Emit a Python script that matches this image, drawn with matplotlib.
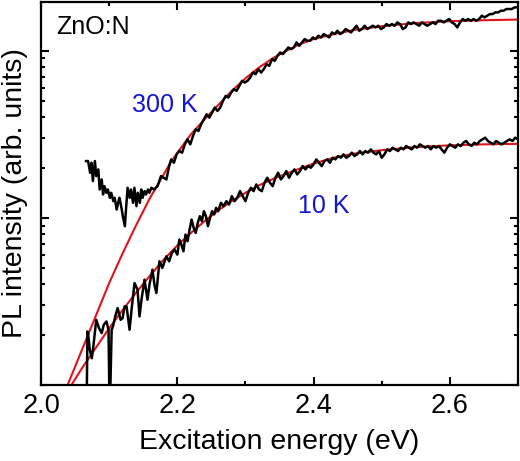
import numpy as np
import matplotlib
matplotlib.use('Agg')
import matplotlib.pyplot as plt
from matplotlib.ticker import MultipleLocator, LogLocator, NullFormatter

plt.rcParams['font.family'] = ['Liberation Sans', 'DejaVu Sans']

# (excitation energy in eV, log10 of PL intensity in arb. units)
pl_300k = [
    (2.066, 1.34), (2.069, 1.34), (2.072, 1.27), (2.074, 1.33), (2.076, 1.22),
    (2.079, 1.34), (2.081, 1.25), (2.084, 1.29), (2.086, 1.17), (2.089, 1.23),
    (2.091, 1.14), (2.093, 1.19), (2.096, 1.15), (2.098, 1.17), (2.101, 1.12),
    (2.103, 1.15), (2.106, 1.10), (2.108, 1.12), (2.111, 1.05), (2.113, 1.09),
    (2.115, 1.12), (2.118, 1.06), (2.120, 1.01), (2.123, 0.95), (2.125, 1.07),
    (2.127, 1.18), (2.130, 1.12), (2.132, 1.17), (2.135, 1.09), (2.137, 1.18),
    (2.140, 1.07), (2.142, 1.15), (2.145, 1.09), (2.147, 1.17), (2.149, 1.12),
    (2.152, 1.16), (2.154, 1.14), (2.157, 1.17), (2.159, 1.15), (2.162, 1.18),
    (2.166, 1.17), (2.171, 1.19), (2.176, 1.25), (2.180, 1.24), (2.184, 1.23),
    (2.188, 1.31), (2.191, 1.35), (2.195, 1.33), (2.199, 1.38), (2.203, 1.40),
    (2.207, 1.39), (2.211, 1.44), (2.215, 1.47), (2.219, 1.44), (2.223, 1.49),
    (2.227, 1.53), (2.231, 1.52), (2.235, 1.56), (2.239, 1.59), (2.243, 1.62),
    (2.247, 1.60), (2.251, 1.63), (2.255, 1.66), (2.259, 1.64), (2.263, 1.66),
    (2.267, 1.70), (2.271, 1.73), (2.275, 1.72), (2.279, 1.75), (2.283, 1.77),
    (2.287, 1.76), (2.291, 1.79), (2.295, 1.82), (2.299, 1.81), (2.303, 1.82),
    (2.307, 1.84), (2.311, 1.87), (2.315, 1.86), (2.319, 1.89), (2.323, 1.87),
    (2.327, 1.89), (2.331, 1.92), (2.335, 1.91), (2.339, 1.95), (2.343, 1.94),
    (2.347, 1.97), (2.351, 1.99), (2.355, 1.98), (2.359, 2.00), (2.363, 2.02),
    (2.367, 2.01), (2.371, 2.02), (2.375, 2.05), (2.379, 2.03), (2.383, 2.05),
    (2.387, 2.07), (2.391, 2.06), (2.395, 2.06), (2.399, 2.08), (2.403, 2.07),
    (2.407, 2.09), (2.411, 2.08), (2.415, 2.10), (2.419, 2.09), (2.423, 2.08),
    (2.427, 2.11), (2.431, 2.10), (2.435, 2.12), (2.439, 2.10), (2.443, 2.11),
    (2.447, 2.13), (2.451, 2.12), (2.455, 2.11), (2.459, 2.13), (2.463, 2.15),
    (2.467, 2.12), (2.471, 2.13), (2.475, 2.15), (2.479, 2.13), (2.483, 2.14),
    (2.487, 2.15), (2.491, 2.14), (2.495, 2.15), (2.499, 2.13), (2.503, 2.14),
    (2.507, 2.16), (2.511, 2.15), (2.515, 2.16), (2.519, 2.15), (2.523, 2.17),
    (2.527, 2.16), (2.531, 2.13), (2.535, 2.14), (2.539, 2.17), (2.543, 2.16),
    (2.547, 2.17), (2.551, 2.16), (2.555, 2.15), (2.559, 2.17), (2.563, 2.16),
    (2.567, 2.15), (2.571, 2.16), (2.575, 2.17), (2.579, 2.16), (2.583, 2.18),
    (2.587, 2.18), (2.591, 2.17), (2.595, 2.18), (2.599, 2.19), (2.603, 2.17),
    (2.607, 2.16), (2.611, 2.14), (2.615, 2.17), (2.619, 2.19), (2.623, 2.18),
    (2.627, 2.19), (2.631, 2.18), (2.635, 2.19), (2.639, 2.18), (2.643, 2.19),
    (2.647, 2.21), (2.651, 2.20), (2.655, 2.21), (2.659, 2.22), (2.663, 2.22),
    (2.667, 2.23), (2.671, 2.23), (2.675, 2.24), (2.679, 2.24), (2.683, 2.25),
    (2.687, 2.25), (2.691, 2.25), (2.695, 2.26), (2.699, 2.26),
]

pl_10k = [
    (2.067, -0.10), (2.068, 0.32), (2.069, 0.31), (2.0715, 0.21), (2.0745, 0.16),
    (2.077, 0.24), (2.081, 0.39), (2.085, 0.34), (2.089, 0.31), (2.092, 0.36),
    (2.096, 0.38), (2.099, 0.33), (2.1007, -0.20), (2.1036, 0.33), (2.1055, 0.35),
    (2.1095, 0.42), (2.1124, 0.46), (2.1168, 0.39), (2.1197, 0.40), (2.1226, 0.47),
    (2.1255, 0.47), (2.1299, 0.33), (2.1328, 0.45), (2.1372, 0.61), (2.1416, 0.57),
    (2.1445, 0.41), (2.1474, 0.51), (2.1518, 0.63), (2.1562, 0.51), (2.1591, 0.60),
    (2.1635, 0.69), (2.1664, 0.60), (2.1693, 0.55), (2.1737, 0.74), (2.178, 0.70),
    (2.184, 0.77), (2.188, 0.74), (2.192, 0.79), (2.196, 0.81), (2.200, 0.78),
    (2.203, 0.87), (2.206, 0.84), (2.209, 0.80), (2.212, 0.90), (2.215, 0.86),
    (2.218, 0.93), (2.221, 0.99), (2.224, 0.94), (2.227, 0.91), (2.230, 0.97),
    (2.233, 1.01), (2.236, 0.98), (2.239, 1.04), (2.242, 1.01), (2.245, 0.95),
    (2.248, 1.00), (2.251, 1.04), (2.254, 1.02), (2.257, 1.06), (2.260, 1.04),
    (2.264, 1.09), (2.268, 1.07), (2.272, 1.10), (2.276, 1.08), (2.280, 1.13),
    (2.284, 1.10), (2.288, 1.12), (2.292, 1.16), (2.296, 1.13), (2.300, 1.10),
    (2.304, 1.15), (2.308, 1.18), (2.312, 1.16), (2.316, 1.20), (2.320, 1.17),
    (2.324, 1.16), (2.328, 1.21), (2.332, 1.24), (2.336, 1.21), (2.340, 1.19),
    (2.344, 1.24), (2.348, 1.27), (2.352, 1.23), (2.356, 1.25), (2.360, 1.28),
    (2.364, 1.24), (2.368, 1.27), (2.372, 1.29), (2.376, 1.26), (2.380, 1.28),
    (2.384, 1.31), (2.388, 1.29), (2.392, 1.31), (2.396, 1.30), (2.400, 1.32),
    (2.404, 1.35), (2.408, 1.33), (2.412, 1.31), (2.416, 1.34), (2.420, 1.35),
    (2.424, 1.33), (2.428, 1.36), (2.432, 1.35), (2.436, 1.37), (2.440, 1.36),
    (2.444, 1.38), (2.448, 1.36), (2.452, 1.37), (2.456, 1.39), (2.460, 1.37),
    (2.464, 1.38), (2.468, 1.40), (2.472, 1.38), (2.476, 1.40), (2.480, 1.39),
    (2.484, 1.41), (2.488, 1.39), (2.492, 1.38), (2.496, 1.40), (2.500, 1.36),
    (2.504, 1.38), (2.508, 1.41), (2.512, 1.40), (2.516, 1.42), (2.520, 1.41),
    (2.524, 1.40), (2.528, 1.42), (2.532, 1.41), (2.536, 1.43), (2.540, 1.42),
    (2.544, 1.41), (2.548, 1.43), (2.552, 1.42), (2.556, 1.44), (2.560, 1.43),
    (2.564, 1.42), (2.568, 1.43), (2.572, 1.41), (2.576, 1.43), (2.580, 1.42),
    (2.584, 1.43), (2.588, 1.41), (2.592, 1.39), (2.596, 1.42), (2.600, 1.44),
    (2.604, 1.43), (2.608, 1.42), (2.612, 1.44), (2.616, 1.43), (2.620, 1.45),
    (2.624, 1.46), (2.628, 1.44), (2.632, 1.43), (2.636, 1.45), (2.640, 1.44),
    (2.644, 1.46), (2.648, 1.47), (2.652, 1.48), (2.656, 1.46), (2.660, 1.45),
    (2.664, 1.44), (2.668, 1.46), (2.672, 1.45), (2.676, 1.44), (2.680, 1.45),
    (2.684, 1.46), (2.688, 1.47), (2.692, 1.46), (2.696, 1.48), (2.700, 1.47),
]

fit_300k = [
    (2.036, -0.03), (2.05, 0.11), (2.06, 0.21), (2.07, 0.31), (2.08, 0.41),
    (2.09, 0.51), (2.10, 0.61), (2.11, 0.70), (2.12, 0.79), (2.13, 0.875),
    (2.14, 0.96), (2.15, 1.04), (2.16, 1.12), (2.17, 1.19), (2.18, 1.26),
    (2.19, 1.33), (2.20, 1.39), (2.22, 1.50), (2.24, 1.59), (2.26, 1.675),
    (2.28, 1.76), (2.30, 1.835), (2.32, 1.90), (2.34, 1.955), (2.36, 2.00),
    (2.38, 2.04), (2.40, 2.07), (2.43, 2.10), (2.46, 2.125), (2.50, 2.147),
    (2.55, 2.166), (2.60, 2.177), (2.65, 2.183), (2.70, 2.187),
]

fit_10k = [
    (2.040, -0.03), (2.06, 0.10), (2.08, 0.22), (2.10, 0.34), (2.12, 0.45),
    (2.14, 0.555), (2.16, 0.655), (2.18, 0.75), (2.20, 0.835), (2.22, 0.91),
    (2.24, 0.98), (2.26, 1.045), (2.28, 1.10), (2.30, 1.15), (2.32, 1.195),
    (2.34, 1.232), (2.36, 1.265), (2.38, 1.295), (2.40, 1.325), (2.43, 1.36),
    (2.46, 1.385), (2.50, 1.405), (2.55, 1.424), (2.60, 1.434), (2.65, 1.44),
    (2.70, 1.443),
]

xticks = [2.0, 2.2, 2.4, 2.6]
xtick_labels = ['2.0', '2.2', '2.4', '2.6']

fig = plt.figure(figsize=(5.2, 4.61), dpi=100)
ax = fig.add_axes([0.079, 0.165, 0.917, 0.831])

red = '#e3121b'
for fit in (fit_300k, fit_10k):
    e, d = np.array(fit).T
    ax.plot(e, 10 ** d, color=red, lw=1.5, zorder=2)
for spec in (pl_300k, pl_10k):
    e, d = np.array(spec).T
    ax.plot(e, 10 ** d, color='black', lw=1.8, zorder=3)

ax.set_yscale('log')
ax.set_xlim(2.0, 2.7)
ax.set_ylim(1, 10 ** 2.293)
ax.set_xticks(xticks)
ax.set_xticklabels(xtick_labels)
ax.xaxis.set_minor_locator(MultipleLocator(0.1))
ax.yaxis.set_major_locator(LogLocator(base=10, numticks=10))
ax.yaxis.set_minor_locator(LogLocator(base=10, subs=np.arange(2, 10), numticks=10))
ax.yaxis.set_major_formatter(NullFormatter())
ax.yaxis.set_minor_formatter(NullFormatter())

ax.tick_params(which='both', direction='in', top=True, right=True, width=1.5)
ax.tick_params(which='major', length=5.5)
ax.tick_params(which='minor', length=3)
ax.tick_params(axis='x', labelsize=19.5, pad=6)
for s in ax.spines.values():
    s.set_linewidth(1.6)

ax.set_xlabel('Excitation energy (eV)', fontsize=20.5, labelpad=7)
ax.set_ylabel('PL intensity (arb. units)', fontsize=20.5, labelpad=6)

blue = '#1414d2'
ax.text(2.023, 10 ** 2.14, 'ZnO:N', fontsize=18, va='center', ha='left')
ax.text(2.182, 10 ** 1.677, '300 K', fontsize=18, color=blue, va='center', ha='center')
ax.text(2.415, 10 ** 1.072, '10 K', fontsize=18, color=blue, va='center', ha='center')

fig.savefig('out.png', dpi=100)
